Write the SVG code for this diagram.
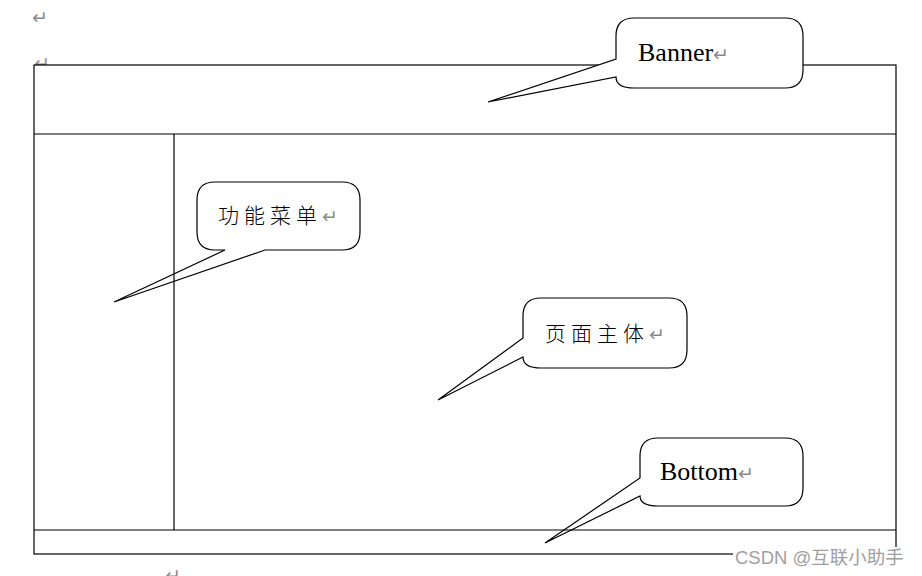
<svg xmlns="http://www.w3.org/2000/svg" width="922" height="576" viewBox="0 0 922 576">
<style>
.frame{fill:#fff;stroke:#000;stroke-width:1.2}
.ln{stroke:#000;stroke-width:1.2;fill:none}
.callout{fill:#fff;stroke:#000;stroke-width:1.2;stroke-linejoin:miter}
.lat{font-family:"Liberation Serif","Times New Roman",serif;font-size:26px;fill:#000}
.cjk{font-family:"Noto Sans CJK SC","Noto Sans CJK JP",sans-serif;font-size:21px;font-weight:300;letter-spacing:5px;fill:#000}
.ret{font-family:"DejaVu Sans",sans-serif;font-size:19px;font-weight:400;fill:#8a8a8a;letter-spacing:0}
.wm{font-family:"Liberation Sans","Noto Sans CJK SC",sans-serif;font-size:18.5px;fill:#a0a0a0}
</style>
<rect width="922" height="576" fill="#fff"/>
<text class="ret" x="32" y="24">↵</text>
<text class="ret" x="34" y="70">↵</text>
<text class="ret" x="165" y="582">↵</text>
<g id="frame">
<rect class="frame" x="34" y="65" width="862" height="489"/>
<line class="ln" x1="34" y1="134" x2="896" y2="134"/>
</g>
<g id="banner">
<path class="callout" d="M634,18 H785 Q803,18 803,36 V70 Q803,88 785,88 H634 Q616,88 616,77 L488,102 L616,59 V36 Q616,18 634,18 Z"/>
<text class="lat" x="638" y="61">Banner<tspan class="ret">↵</tspan></text>
</g>
<g id="menu">
<path class="callout" d="M215,182 H342 Q360,182 360,200 V232 Q360,250 342,250 H265 L114,302 L225,250 H215 Q197,250 197,232 V200 Q197,182 215,182 Z"/>
<text class="cjk" x="218" y="223">功能菜单<tspan class="ret">↵</tspan></text>
</g>
<g id="main">
<path class="callout" d="M541,298 H669 Q687,298 687,316 V350 Q687,368 669,368 H541 Q523,368 523,357 L438,400 L523,338 V316 Q523,298 541,298 Z"/>
<text class="cjk" x="545" y="341">页面主体<tspan class="ret">↵</tspan></text>
</g>
<g id="bottom">
<path class="callout" d="M658,438 H785 Q803,438 803,456 V488 Q803,506 785,506 H658 Q640,506 640,496 L545,543 L640,478 V456 Q640,438 658,438 Z"/>
<text class="lat" x="660" y="480">Bottom<tspan class="ret">↵</tspan></text>
</g>
<g id="connectors">
<line class="ln" x1="174" y1="134" x2="174" y2="530"/>
<line class="ln" x1="34" y1="530" x2="896" y2="530"/>
</g>
<rect x="733" y="547" width="189" height="29" fill="#fff"/>
<text class="wm" x="735" y="564">CSDN @互联小助手</text>
</svg>
